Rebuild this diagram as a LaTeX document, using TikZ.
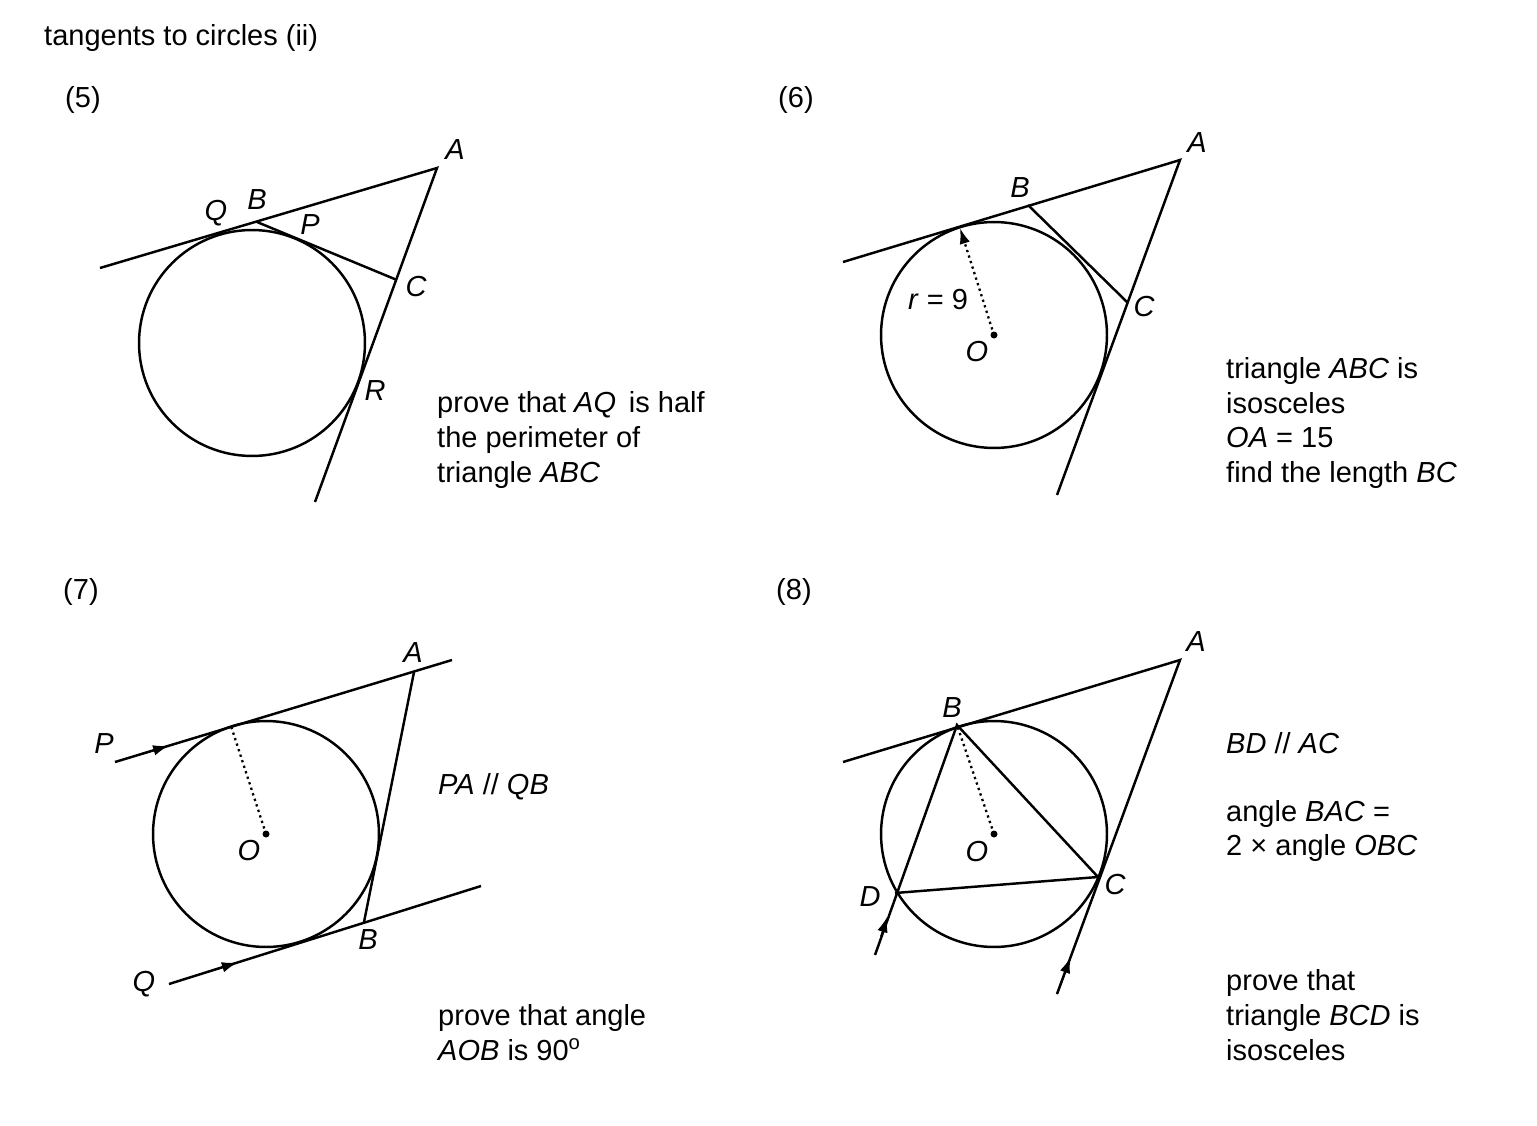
\documentclass[tikz,border=0pt]{standalone}
\usepackage{fontspec}
\setmainfont{Liberation Sans}
\usetikzlibrary{arrows.meta,calc}
\begin{document}
\begin{tikzpicture}[x=0.02cm,y=-0.02cm,line width=1.4pt,
  lbl/.style={font=\fontsize{16.5}{20}\selectfont\itshape,inner sep=0pt},
  txt/.style={font=\fontsize{16.5}{19.9}\selectfont,inner sep=0pt,anchor=west,align=left},
  dots/.style={dotted,line width=1.3pt},
  tip/.style={-{Latex[length=9pt,width=6pt]}}]
\useasboundingbox (0,0) rectangle (1537,1125);
\node[txt] (title) at (43,38) {tangents to circles (ii)};
% (5)
\node[txt] (n5) at (64,100) {(5)};
\node[draw,circle,minimum size=4.52cm,inner sep=0pt] (c5) at (252,343) {};
\coordinate (A5) at (437,168); \coordinate (L5) at (100,268); \coordinate (E5) at (315,502);
\coordinate (B5) at (257,222); \coordinate (C5) at (397,280);
\draw (L5) -- (A5) -- (E5);
\draw (B5) -- (C5);
\node[lbl] (lA5) at (455,150) {A};
\node[lbl] (lQ5) at (216,213) {Q};
\node[lbl] (lB5) at (257,200) {B};
\node[lbl] (lP5) at (310,225) {P};
\node[lbl] (lC5) at (416,287) {C};
\node[lbl] (lR5) at (375,391) {R};
\node[txt] (t5) at (436,440) {prove that \textit{AQ}\, is half\\the perimeter of\\triangle \textit{ABC}};
% (6)
\node[txt] (n6) at (777,100) {(6)};
\node[draw,circle,minimum size=4.52cm,inner sep=0pt] (c6) at (994,335) {};
\coordinate (A6) at (1180,160); \coordinate (L6) at (843,262); \coordinate (E6) at (1057,495);
\coordinate (B6) at (1028,205); \coordinate (C6) at (1128,303);
\coordinate (O6) at (994,335); \coordinate (T6) at (960,228);
\draw (L6) -- (A6) -- (E6);
\draw (B6) -- (C6);
\draw[dots,tip] (O6) -- (T6);
\fill (O6) circle (3.5);
\node[lbl] (lA6) at (1197,143) {A};
\node[lbl] (lB6) at (1020,188) {B};
\node[lbl] (lC6) at (1144,307) {C};
\node[lbl] (lO6) at (977,352) {O};
\node[txt] (r6) at (907,300) {\textit{r} = 9};
\node[txt] (t6) at (1225,423) {triangle \textit{ABC} is\\isosceles\\\textit{OA} = 15\\find the length \textit{BC}};
% (7)
\node[txt] (n7) at (62,592) {(7)};
\node[draw,circle,minimum size=4.52cm,inner sep=0pt] (c7) at (266,834) {};
\coordinate (P7) at (115,762); \coordinate (R7) at (452,660); \coordinate (A7) at (414,672);
\coordinate (B7) at (364,922); \coordinate (Q7) at (169,984); \coordinate (S7) at (481,886);
\coordinate (O7) at (266,834); \coordinate (T7) at (231,726);
\draw (P7) -- (R7);
\draw (Q7) -- (S7);
\draw (A7) -- (B7);
\draw[tip,line width=1pt] ($(P7)!0.08!(R7)$) -- ($(P7)!0.16!(R7)$);
\draw[tip,line width=1pt] ($(Q7)!0.12!(S7)$) -- ($(Q7)!0.22!(S7)$);
\draw[dots] (O7) -- (T7);
\fill (O7) circle (3.5);
\node[lbl] (lP7) at (104,744) {P};
\node[lbl] (lQ7) at (144,984) {Q};
\node[lbl] (lA7) at (413,653) {A};
\node[lbl] (lB7) at (368,940) {B};
\node[lbl] (lO7) at (249,851) {O};
\node[txt] (t7a) at (437,787) {\textit{PA} // \textit{QB}};
\node[txt] (t7b) at (437,1033) {prove that angle\\\textit{AOB} is 90\textsuperscript{o}};
% (8)
\node[txt] (n8) at (775,592) {(8)};
\node[draw,circle,minimum size=4.52cm,inner sep=0pt] (c8) at (994,834) {};
\coordinate (A8) at (1180,660); \coordinate (L8) at (843,762); \coordinate (E8) at (1057,994);
\coordinate (B8) at (957,725); \coordinate (C8) at (1098,877); \coordinate (D8) at (895,893);
\coordinate (F8) at (875,955); \coordinate (O8) at (994,834);
\draw (L8) -- (A8) -- (E8);
\draw (F8) -- (B8) -- (C8) -- (D8);
\draw[tip,line width=1pt] ($(F8)!0.3!(D8)$) -- ($(F8)!0.62!(D8)$);
\draw[tip,line width=1pt] ($(E8)!0.0!(A8)$) -- ($(E8)!0.11!(A8)$);
\draw[dots] (O8) -- (B8);
\fill (O8) circle (3.5);
\node[lbl] (lA8) at (1196,642) {A};
\node[lbl] (lB8) at (952,708) {B};
\node[lbl] (lC8) at (1115,885) {C};
\node[lbl] (lD8) at (870,897) {D};
\node[lbl] (lO8) at (977,852) {O};
\node[txt] (t8a) at (1225,743) {\textit{BD} // \textit{AC}};
\node[txt] (t8b) at (1225,831) {angle \textit{BAC} =\\2 × angle \textit{OBC}};
\node[txt] (t8c) at (1225,1015) {prove that\\triangle \textit{BCD} is\\isosceles};
\end{tikzpicture}
\end{document}
